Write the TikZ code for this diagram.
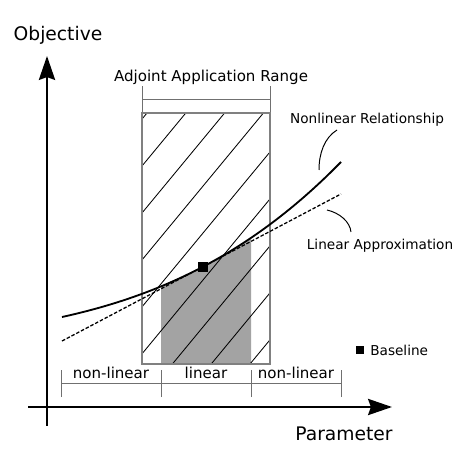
\documentclass[tikz,border=0pt]{standalone}
\usepackage{fontspec}
\setmainfont{DejaVu Sans}
\usetikzlibrary{arrows.meta, positioning}
\definecolor{framegray}{RGB}{128,128,128}
\definecolor{shadegray}{RGB}{163,163,163}
\definecolor{bracketgray}{RGB}{112,112,112}

\begin{document}
\begin{tikzpicture}[
    x=0.025cm, y=0.025cm,
    declare function={objf(\t)=207.3+((\t-203)/100)*(52.7+((\t-203)/100)*(14.46+((\t-203)/100)*1.696));},
    axis/.style={line width=1.6pt, -{Stealth[length=17pt, width=11.5pt, inset=2pt]}},
    bigtext/.style={font=\fontsize{13.3}{16}\selectfont, inner sep=0pt},
    midtext/.style={font=\fontsize{10.7}{13}\selectfont, inner sep=0pt},
    smalltext/.style={font=\fontsize{9.7}{12}\selectfont, inner sep=0pt},
    bracket/.style={draw=bracketgray, line width=0.7pt},
    hatch/.style={line width=0.6pt},
    curve/.style={line width=1.3pt},
    approx/.style={line width=0.9pt, dash pattern=on 2.5pt off 1.3pt},
    leader/.style={line width=0.7pt},
    marker/.style={fill=black, inner sep=0pt, minimum size=#1}
]
\useasboundingbox (0,0) rectangle (474,474);

% axes
\coordinate (xfrom) at (28,67);
\coordinate (xto) at (392,67);
\coordinate (yfrom) at (47,48);
\coordinate (yto) at (47,418);
\draw[axis] (xfrom) -- (xto);
\draw[axis] (yfrom) -- (yto);
\node[bigtext] (objective) at (58,439) {Objective};
\node[bigtext] (parameter) at (344,40) {Parameter};

% adjoint range box
\coordinate (boxsw) at (142,110);
\coordinate (boxne) at (270,361);
\begin{scope}
    \clip (boxsw) rectangle (boxne);
    \fill[shadegray] (161,110) -- plot[domain=161:251, samples=30] (\x,{objf(\x)}) -- (251,110) -- cycle;
    \foreach \k in {0,...,8}
        \draw[hatch] ({147+38.8*\k},361) -- ++(-207.4,-251);
\end{scope}
\draw[framegray, line width=0.9pt] (boxsw) rectangle (boxne);

\coordinate (rangeleft) at (142,375);
\coordinate (rangeright) at (270,375);
\draw[bracket] (rangeleft) -- (rangeright);
\draw[bracket] ([yshift=-9]rangeleft) -- ([yshift=9]rangeleft);
\draw[bracket] ([yshift=-9]rangeright) -- ([yshift=9]rangeright);
\node[midtext] (range) at (211,397) {Adjoint Application Range};

% curves
\draw[approx] (62,{objf(203)-0.527*141}) -- (341,{objf(203)+0.527*138});
\draw[curve] plot[domain=62:341, samples=80, smooth] (\x,{objf(\x)});
\node[marker=7pt] (baseline) at (203,207) {};

% labels with leaders
\node[smalltext] (nonlinear) at (367,354) {Nonlinear Relationship};
\node[smalltext] (linear) at (380,228) {Linear Approximation};
\coordinate (nltop) at (337,344);
\coordinate (nlend) at (319,304);
\coordinate (latop) at (327,264);
\coordinate (laend) at (351,242);
\draw[leader] (nltop) .. controls (324,336) and (319,320) .. (nlend);
\draw[leader] (latop) .. controls (340,261) and (350,252) .. (laend);

% legend
\node[marker=5.7pt] (legendmark) at (360,124) {};
\node[smalltext, anchor=west] (legendtext) at (370,124) {Baseline};

% regions below
\foreach \name/\xpos in {ra/61, rb/161, rc/251, rd/341}
    \coordinate (\name) at (\xpos,91);
\draw[bracket] (ra) -- (rd);
\foreach \name in {ra, rb, rc, rd}
    \draw[bracket] ([yshift=-10]\name) -- ([yshift=9]\name);
\node[midtext] (leftnl) at (111,101) {non-linear};
\node[midtext] (mid) at (206,101) {linear};
\node[midtext] (rightnl) at (296,101) {non-linear};

\end{tikzpicture}
\end{document}
